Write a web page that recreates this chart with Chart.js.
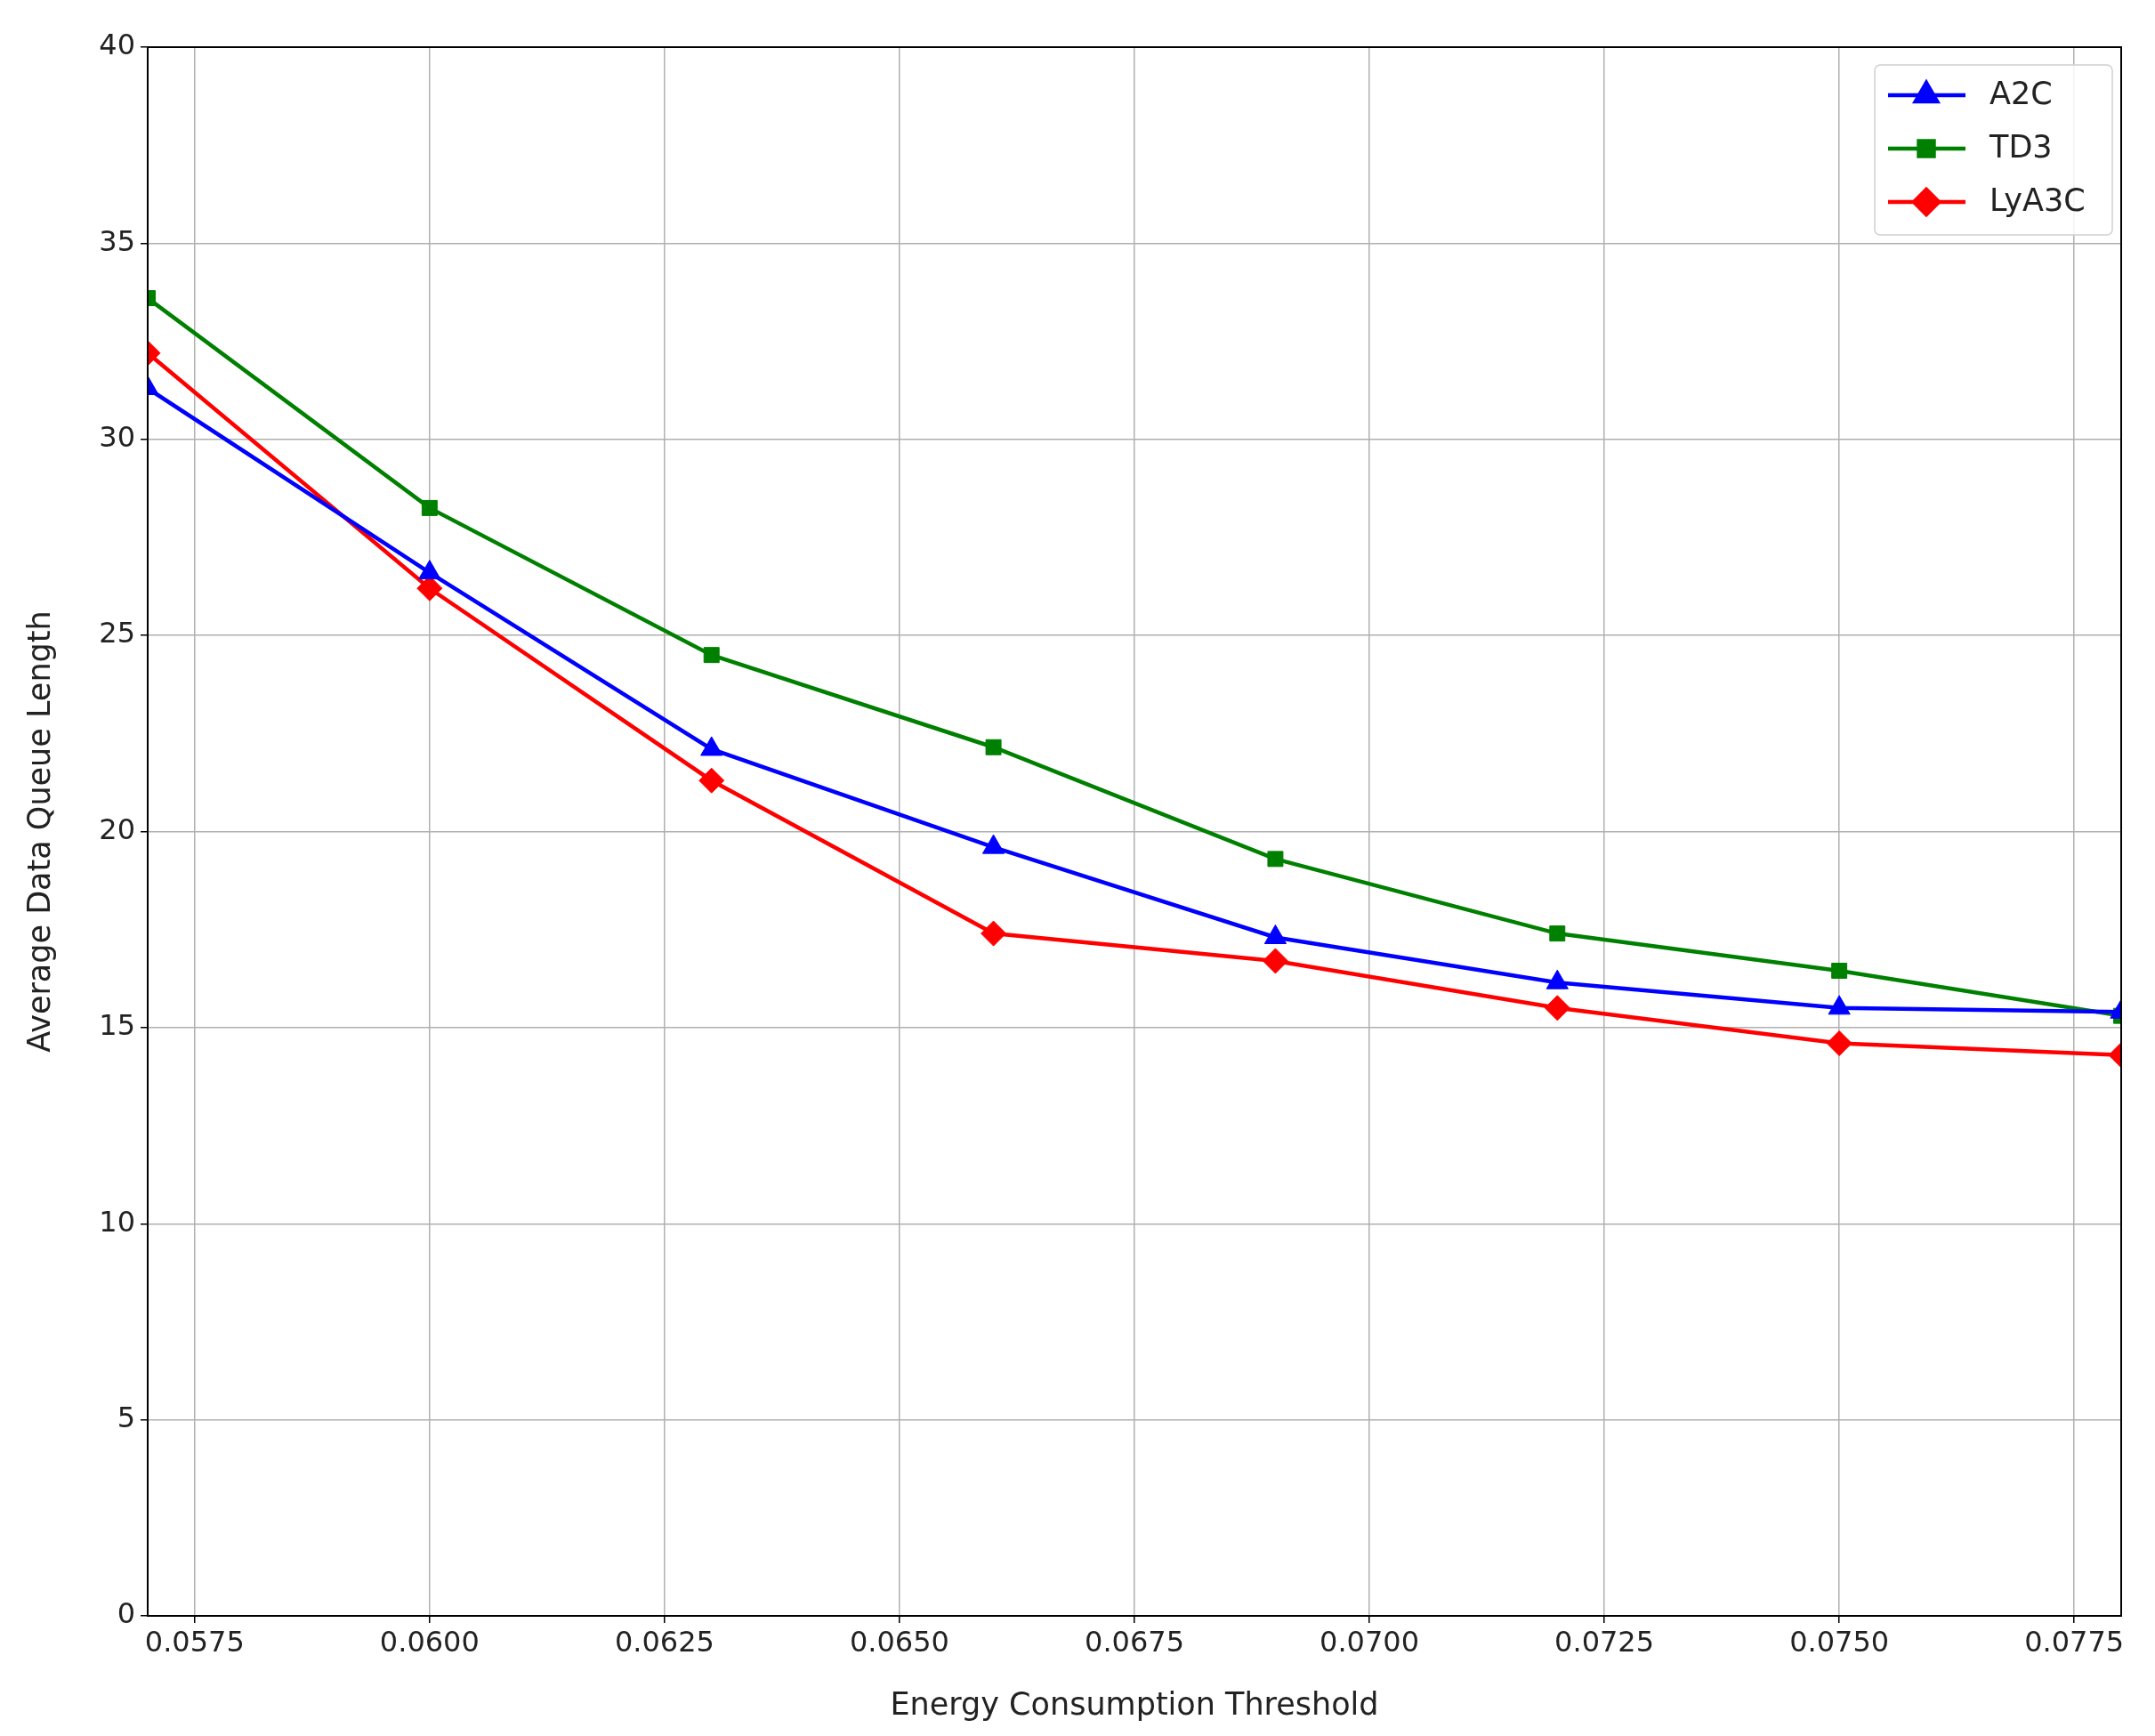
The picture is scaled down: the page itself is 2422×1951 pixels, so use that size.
<!DOCTYPE html>
<html><head><meta charset="utf-8">
<script src="https://cdn.jsdelivr.net/npm/chart.js@4"></script>
<style>html,body{margin:0;padding:0;background:#fff}</style>
</head><body>
<canvas id="c" width="2422" height="1951"></canvas>
<script>
const thresholds = [0.057, 0.060, 0.063, 0.066, 0.069, 0.072, 0.075, 0.078];
const a2c   = [31.3, 26.6, 22.1, 19.6, 17.3, 16.15, 15.5, 15.4];
const td3   = [33.6, 28.25, 24.5, 22.15, 19.3, 17.4, 16.45, 15.3];
const lya3c = [32.2, 26.2, 21.3, 17.4, 16.7, 15.5, 14.6, 14.3];
const xTicks = [0.0575, 0.0600, 0.0625, 0.0650, 0.0675, 0.0700, 0.0725, 0.0750, 0.0775];
const seriesNames = ['A2C', 'TD3', 'LyA3C'];

const FONT = 'DejaVu Sans';
const pts = arr => arr.map((y, i) => ({x: thresholds[i], y}));
const mk = (label, data, color, style) => ({
  label, data: pts(data), borderColor: color, backgroundColor: color,
  borderWidth: 4.5, pointStyle: style, pointRadius: style === 'rect' ? 12 : 14,
  pointBorderWidth: 1, tension: 0
});

const frame = {
  id: 'frame',
  afterDraw(ch) {
    const {ctx, chartArea: a} = ch;
    ctx.save();
    ctx.strokeStyle = '#000'; ctx.lineWidth = 2;
    ctx.strokeRect(a.left, a.top, a.right - a.left, a.bottom - a.top);
    const bx = 2107, by = 73, bw = 267, bh = 191;
    ctx.fillStyle = 'rgba(255,255,255,0.85)';
    ctx.strokeStyle = '#d0d0d0'; ctx.lineWidth = 1.5;
    ctx.beginPath(); ctx.roundRect(bx, by, bw, bh, 6); ctx.fill(); ctx.stroke();
    ch.data.datasets.forEach((ds, i) => {
      const y = 107 + i * 60;
      ctx.strokeStyle = ds.borderColor; ctx.lineWidth = 4.5;
      ctx.beginPath(); ctx.moveTo(2122, y); ctx.lineTo(2209, y); ctx.stroke();
      Chart.helpers.drawPoint(ctx, {pointStyle: ds.pointStyle, radius: ds.pointRadius, rotation: 0, borderWidth: 1}, 2165, y);
      ctx.fillStyle = ds.borderColor; ctx.fill();
      ctx.fillStyle = '#222'; ctx.font = '35px ' + FONT;
      ctx.textBaseline = 'middle'; ctx.textAlign = 'left';
      ctx.fillText(ds.label, 2236, y + 1);
    });
    ctx.restore();
  }
};

new Chart(document.getElementById('c'), {
  type: 'line',
  data: { datasets: [
    mk(seriesNames[0], a2c, '#0000ff', 'triangle'),
    mk(seriesNames[1], td3, '#008000', 'rect'),
    mk(seriesNames[2], lya3c, '#ff0000', 'rectRot')
  ]},
  options: {
    responsive: false, animation: false, devicePixelRatio: 1,
    layout: {padding: {top: 53, right: 38, left: 22, bottom: 0}},
    plugins: {legend: {display: false}, tooltip: {enabled: false}},
    scales: {
      x: {
        type: 'linear', min: 0.057, max: 0.078,
        afterBuildTicks: s => { s.ticks = xTicks.map(v => ({value: v})); },
        afterFit: s => { s.height = 135; },
        grid: {color: '#b0b0b0', lineWidth: 1.5, tickLength: 8, tickColor: '#000'},
        border: {color: '#000', width: 2},
        ticks: {color: '#222', font: {family: FONT, size: 32}, maxRotation: 0, callback: v => v.toFixed(4), padding: 4},
        title: {display: true, text: 'Energy Consumption Threshold', color: '#222', font: {family: FONT, size: 35}, padding: {top: 2, bottom: 12}}
      },
      y: {
        min: 0, max: 40,
        ticks: {stepSize: 5, color: '#222', font: {family: FONT, size: 32}, padding: 6},
        afterFit: s => { s.width = 144; },
        grid: {color: '#b0b0b0', lineWidth: 1.5, tickLength: 8, tickColor: '#000'},
        border: {color: '#000', width: 2},
        title: {display: true, text: 'Average Data Queue Length', color: '#222', font: {family: FONT, size: 35}, padding: {bottom: 4}}
      }
    }
  },
  plugins: [frame]
});
</script>
</body></html>
